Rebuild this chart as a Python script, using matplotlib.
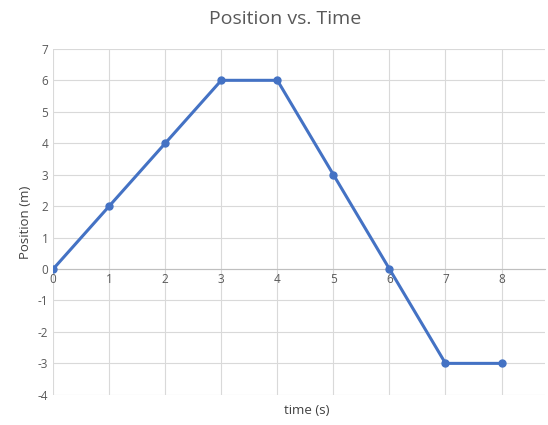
import matplotlib
matplotlib.use("Agg")
import matplotlib.pyplot as plt

time_s = [0, 1, 2, 3, 4, 5, 6, 7, 8]
position_m = [0, 2, 4, 6, 6, 3, 0, -3, -3]
x_ticks = [0, 1, 2, 3, 4, 5, 6, 7, 8]
y_ticks = [-4, -3, -2, -1, 0, 1, 2, 3, 4, 5, 6, 7]

plt.rcParams['font.family'] = ['Open Sans', 'DejaVu Sans']
plt.rcParams['axes.unicode_minus'] = False
fig = plt.figure(figsize=(5.48, 4.25), dpi=100)
ax = fig.add_axes([0.097, 0.071, 0.898, 0.814])
ax.plot(time_s, position_m, color='#4472C4', linewidth=2.2, marker='o', markersize=5, zorder=3)
ax.set_xlim(0, 8.78)
ax.set_ylim(-4, 7)
ax.set_yticks(y_ticks)
ax.set_xticks(x_ticks)
ax.grid(True, color='#D9D9D9', linewidth=0.8)
for s in ['top', 'right', 'left']:
    ax.spines[s].set_visible(False)
ax.spines['bottom'].set_position(('data', 0))
ax.spines['bottom'].set_color('#BFBFBF')
ax.tick_params(length=0, labelsize=8.5, colors='#595959')
ax.tick_params(axis='x', pad=3)
ax.set_ylabel('Position (m)', fontsize=9.5, color='#404040')
fig.text(0.56, 0.035, 'time (s)', ha='center', va='center', fontsize=9.5, color='#404040')
fig.text(0.52, 0.955, 'Position vs. Time', ha='center', va='center', fontsize=14, color='#595959')
fig.savefig('out.png', dpi=100)
